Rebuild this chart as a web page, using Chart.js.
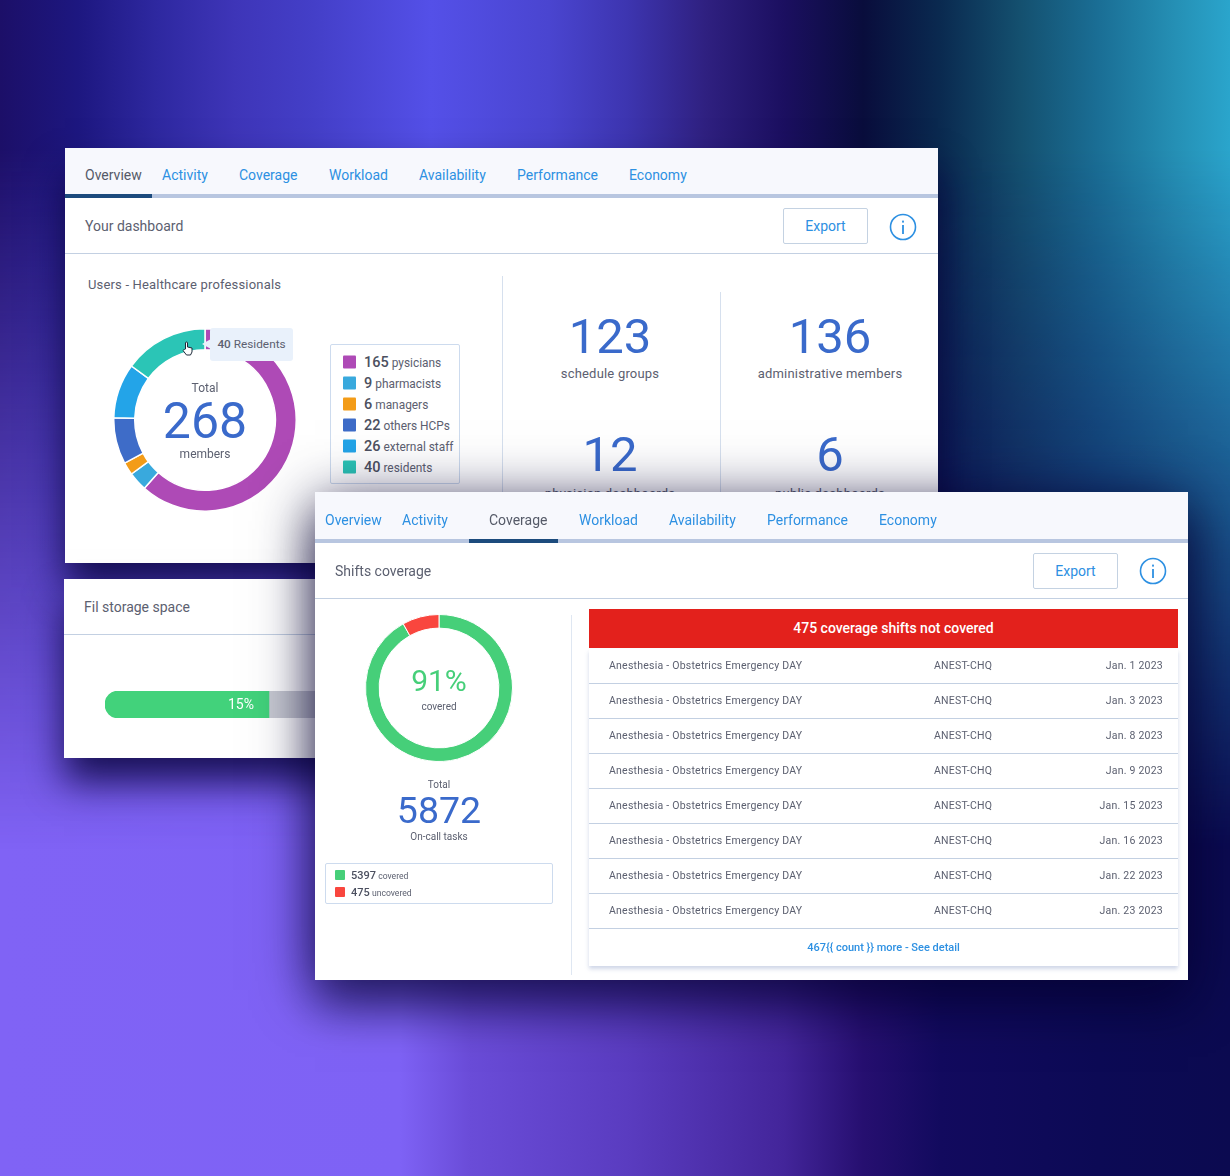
<!DOCTYPE html>
<html>
<head>
<meta charset="utf-8">
<title>Dashboard</title>
<script src="https://cdn.jsdelivr.net/npm/chart.js@4"></script>
<style>
html, body { margin: 0; padding: 0; }
body {
  position: relative; width: 1230px; height: 1176px; overflow: hidden;
  font-family: Roboto, sans-serif; color: #5c6070;
  background: linear-gradient(90deg, #8063f5 0, #7e62f5 400px, #6a4cd8 470px, #5a3cc0 627px, #43259a 784px, #260f70 863px, #120a5e 941px, #0c0a55 1098px, #0b0a50 1230px);
}
#bgTop {
  position: absolute; left: 0; top: 0; width: 1230px; height: 880px;
  background: linear-gradient(90deg, #1c0f68 0, #1d1780 78px, #2e28a0 157px, #3e35b8 235px, #443fc8 314px, #5450e8 431px, #4a45d0 549px, #3d35b0 627px, #2f2080 706px, #1b0f60 784px, #090d3c 863px, #0a2a50 941px, #14506f 1020px, #1a6e95 1098px, #2590b5 1176px, #2aa5cc 1230px);
  -webkit-mask-image: linear-gradient(180deg, #000 0, #000 150px, transparent 850px);
  mask-image: linear-gradient(180deg, #000 0, #000 150px, transparent 850px);
}
.abs { position: absolute; }
.card { position: absolute; background: #fff; overflow: hidden; }
.back { box-shadow: 0 24px 36px rgba(8,4,60,.85); }
.shadowed { box-shadow: 0 10px 55px rgba(6,3,50,.8), 0 30px 40px rgba(6,3,50,.35); }
.tabs { position: absolute; left: 0; top: 0; right: 0; height: 46px; background: #f7f8fd; border-bottom: 4px solid #b8c6e0; }
.tab { position: absolute; top: 27px; transform: translateY(-50%); font-size: 14px; color: #2d90e2; white-space: nowrap; }
.tab.on { color: #555a68; }
.tabline { position: absolute; top: 46px; height: 4px; background: #1c4b7d; }
.head { position: absolute; font-size: 14px; color: #5c6070; white-space: nowrap; transform: translateY(-50%); }
.rule { position: absolute; background: #c3d0e2; }
.btn { position: absolute; box-sizing: border-box; width: 85px; height: 36px; border: 1px solid #c4d2e2; border-radius: 2px; background: #fff; color: #2d90e2; font-size: 14px; line-height: 35px; text-align: center; }
.big { position: absolute; transform: translate(-50%, -50%); color: #3a6acb; white-space: nowrap; line-height: .78; }
.small { position: absolute; transform: translate(-50%, -50%); color: #5c6070; white-space: nowrap; line-height: 1; }
.legend { position: absolute; box-sizing: border-box; border: 1px solid #cddbee; border-radius: 2px; background: #fff; }
.legitem { position: absolute; white-space: nowrap; transform: translateY(-50%); color: #5c6070; }
.legitem b { font-weight: 500; color: #4c5060; }
.swatch { position: absolute; border-radius: 1px; transform: translateY(-50%); }
canvas { position: absolute; display: block; }
.row { position: absolute; left: 0; width: 589px; height: 35px; border-bottom: 1px solid #c3d0e2; box-sizing: border-box; font-size: 10.5px; letter-spacing: .23px; color: #5c6070; line-height: 33px; background: #fff; }
.row span { position: absolute; top: 0; white-space: nowrap; }
</style>
</head>
<body>
<div id="bgTop"></div>

<div class="card back" id="cardUsers" style="left:65px;top:148px;width:873px;height:415px">
  <div class="tabs" id="tabsA"></div>
  <div class="tabline" style="left:0;width:87px"></div>
  <div class="head" style="left:20px;top:78px">Your dashboard</div>
  <div class="btn" style="left:718px;top:60px">Export</div>
  <svg class="abs" style="left:824px;top:65px" width="28" height="28" viewBox="0 0 28 28"><circle cx="14" cy="14" r="12.5" fill="none" stroke="#2d90e2" stroke-width="1.6"/><rect x="13.1" y="12" width="1.8" height="9" fill="#2d90e2"/><rect x="13.1" y="7.6" width="1.8" height="2" fill="#2d90e2"/></svg>
  <div class="rule" style="left:0;right:0;top:105px;height:1px"></div>
  <div class="head" style="left:23px;top:136px;font-size:13px;letter-spacing:.17px">Users - Healthcare professionals</div>
  <div class="rule" style="left:437px;top:128px;width:1px;height:287px;background:#d6e0ee"></div>
  <div class="rule" style="left:655px;top:144px;width:1px;height:271px;background:#d6e0ee"></div>
  <canvas id="usersChart" width="184" height="184" style="left:48px;top:180px"></canvas>
  <div class="small" style="left:140px;top:240px;font-size:12px">Total</div>
  <div class="big" style="left:140px;top:273px;font-size:50px">268</div>
  <div class="small" style="left:140px;top:306px;font-size:12px">members</div>
  <div class="abs" style="left:145px;top:180px;width:83px;height:33px;background:#e9f1fb;border-radius:3px;font-size:11.8px;line-height:33px;text-align:center;color:#5c6070"><b style="font-weight:500">40</b> Residents</div>
  <svg class="abs" style="left:136px;top:186px" width="12" height="20" viewBox="0 0 12 20"><path d="M10 5 L1 10 L10 15 Z" fill="#e9f1fb"/></svg>
  <svg class="abs" style="left:116px;top:193px" width="14" height="15" viewBox="0 0 14 15"><path d="M4.5 8V2a1 1 0 0 1 2 0v4l4.5 1v4l-1.5 3H5.5L2 9.5c.8-1 1.7-1 2.5-1.5z" fill="#fff" stroke="#1e2a3a" stroke-width="1"/></svg>
  <div class="legend" id="usersLegend" style="left:265px;top:196px;width:130px;height:140px"></div>
  <div id="statsBox"></div>
</div>

<div class="card back" id="cardStorage" style="left:64px;top:579px;width:300px;height:179px">
  <div class="head" style="left:20px;top:28px">Fil storage space</div>
  <div class="rule" style="left:0;right:0;top:55px;height:1px"></div>
  <canvas id="storageChart" width="1093" height="27" style="left:41px;top:112px"></canvas>
  <div class="abs" style="left:164px;top:125px;transform:translateY(-50%);color:#fff;font-size:14px">15%</div>
</div>

<div class="card shadowed" id="cardShifts" style="left:315px;top:492px;width:873px;height:488px">
  <div class="tabs" id="tabsB" style="height:47px"></div>
  <div class="tabline" style="left:154px;width:89px;top:47px"></div>
  <div class="head" style="left:20px;top:79px">Shifts coverage</div>
  <div class="btn" style="left:718px;top:61px">Export</div>
  <svg class="abs" style="left:824px;top:65px" width="28" height="28" viewBox="0 0 28 28"><circle cx="14" cy="14" r="12.5" fill="none" stroke="#2d90e2" stroke-width="1.6"/><rect x="13.1" y="12" width="1.8" height="9" fill="#2d90e2"/><rect x="13.1" y="7.6" width="1.8" height="2" fill="#2d90e2"/></svg>
  <div class="rule" style="left:0;right:0;top:106px;height:1px"></div>
  <div class="rule" style="left:256px;top:123px;width:1px;height:360px;background:#dfe7f2"></div>
  <canvas id="shiftsChart" width="148" height="148" style="left:50px;top:122px"></canvas>
  <div class="big" style="left:124px;top:189px;font-size:30px;color:#46cf79">91%</div>
  <div class="small" style="left:124px;top:215px;font-size:10px">covered</div>
  <div class="small" style="left:124px;top:293px;font-size:10px">Total</div>
  <div class="big" style="left:124px;top:319px;font-size:37.5px">5872</div>
  <div class="small" style="left:124px;top:345px;font-size:10px">On-call tasks</div>
  <div class="legend" id="shiftsLegend" style="left:10px;top:371px;width:228px;height:41px"></div>
  <div class="abs" style="left:274px;top:117px;width:569px;padding-left:20px;height:39px;background:#e3211c;color:#fff;font-size:14px;font-weight:500;line-height:39px;text-align:center">475 coverage shifts not covered</div>
  <div class="abs" id="shiftRows" style="left:274px;top:157px;width:589px;height:317px;background:#fff;box-shadow:0 3px 4px rgba(120,140,190,.35)"></div>
</div>

<script>
const tabNames = ['Overview', 'Activity', 'Coverage', 'Workload', 'Availability', 'Performance', 'Economy'];
const tabLeftA = [20, 97, 174, 264, 354, 452, 564];
const tabLeftB = [10, 87, 174, 264, 354, 452, 564];

const userLabels = ['pysicians', 'pharmacists', 'managers', 'others HCPs', 'external staff', 'residents'];
const userCounts = [165, 9, 6, 22, 26, 40];
const userColors = ['#ae4ab6', '#39a9dd', '#f39c18', '#3e6cc8', '#23a4e8', '#2bc5b6'];

const statValues = [123, 136, 12, 6];
const statLabels = ['schedule groups', 'administrative members', 'physician dashboards', 'public dashboards'];

const storageLabels = ['Storage'];
const storageUsed = [15];
const storageFree = [85];

const shiftLabels = ['covered', 'uncovered'];
const shiftCounts = [5397, 475];
const shiftColors = ['#46cf79', '#f9463e'];

const shiftDates = ['Jan. 1 2023', 'Jan. 3 2023', 'Jan. 8 2023', 'Jan. 9 2023', 'Jan. 15 2023', 'Jan. 16 2023', 'Jan. 22 2023', 'Jan. 23 2023'];
const shiftName = 'Anesthesia - Obstetrics Emergency DAY';
const shiftCode = 'ANEST-CHQ';

Chart.defaults.animation = false;
Chart.defaults.font.family = 'Roboto';

// tabs
function fillTabs(el, lefts, active, top) {
    tabNames.forEach(function(name, i) {
        const t = document.createElement('div');
        t.className = 'tab' + (i === active ? ' on' : '');
        t.style.left = lefts[i] + 'px';
        t.style.top = top + 'px';
        t.textContent = name;
        el.appendChild(t);
    });
}
fillTabs(document.getElementById('tabsA'), tabLeftA, 0, 27);
fillTabs(document.getElementById('tabsB'), tabLeftB, 2, 28);

// right side numbers
const statX = [545, 765];
const statY = [189, 307];
const statsBox = document.getElementById('statsBox');
statValues.forEach(function(v, i) {
    const x = statX[i % 2], y = statY[Math.floor(i / 2)];
    statsBox.insertAdjacentHTML('beforeend',
        '<div class="big" style="left:' + x + 'px;top:' + y + 'px;font-size:49px">' + v + '</div>' +
        '<div class="small" style="left:' + x + 'px;top:' + (i < 2 ? y + 36 : y + 38) + 'px;font-size:13px;letter-spacing:.2px">' + statLabels[i] + '</div>');
});

// legends
function fillLegend(el, labels, counts, colors, firstY, stepY, swatch, numSize, textSize, leftPad, textPad) {
    labels.forEach(function(label, i) {
        const y = firstY + stepY * i;
        el.insertAdjacentHTML('beforeend',
            '<div class="swatch" style="left:' + leftPad + 'px;top:' + y + 'px;width:' + swatch + 'px;height:' + swatch + 'px;background:' + colors[i] + '"></div>' +
            '<div class="legitem" style="left:' + textPad + 'px;top:' + y + 'px;font-size:' + textSize + 'px"><b style="font-size:' + numSize + 'px">' + counts[i] + '</b> ' + label + '</div>');
    });
}
fillLegend(document.getElementById('usersLegend'), userLabels, userCounts, userColors, 16.5, 21, 13, 14.5, 11.9, 12, 33);
fillLegend(document.getElementById('shiftsLegend'), shiftLabels, shiftCounts, shiftColors, 10.5, 17, 10, 11, 8.6, 9, 25);

// table
const shiftRows = document.getElementById('shiftRows');
shiftDates.forEach(function(d, i) {
    shiftRows.insertAdjacentHTML('beforeend',
        '<div class="row" style="top:' + (35 * i) + 'px"><span style="left:20px">' + shiftName + '</span><span style="left:345px">' + shiftCode + '</span><span style="right:15px">' + d + '</span></div>');
});
shiftRows.insertAdjacentHTML('beforeend', '<div class="abs" style="left:0;right:0;top:292px;text-align:center;font-size:11px;font-weight:500;color:#2d90e2">467{{ count }} more - See detail</div>');

// graphiques
new Chart(document.getElementById('usersChart'), {
    type: 'doughnut',
    data: {
        labels: userLabels,
        datasets: [{ data: userCounts, backgroundColor: userColors, borderColor: '#fff', borderWidth: 1.5 }]
    },
    options: {
        responsive: false,
        cutout: '77%',
        plugins: { legend: { display: false }, tooltip: { enabled: false } }
    }
});

new Chart(document.getElementById('shiftsChart'), {
    type: 'doughnut',
    data: {
        labels: shiftLabels,
        datasets: [{ data: shiftCounts, backgroundColor: shiftColors, borderColor: '#fff', borderWidth: 1 }]
    },
    options: {
        responsive: false,
        cutout: '81.5%',
        plugins: { legend: { display: false }, tooltip: { enabled: false } }
    }
});

new Chart(document.getElementById('storageChart'), {
    type: 'bar',
    data: {
        labels: storageLabels,
        datasets: [
            { data: storageUsed, backgroundColor: '#42d27b', borderRadius: { topLeft: 14, bottomLeft: 14 }, borderSkipped: false, barPercentage: 1, categoryPercentage: 1 },
            { data: storageFree, backgroundColor: '#c8cad2', barPercentage: 1, categoryPercentage: 1 }
        ]
    },
    options: {
        indexAxis: 'y',
        responsive: false,
        layout: { padding: 0 },
        scales: {
            x: { stacked: true, display: false, min: 0, max: 100 },
            y: { stacked: true, display: false }
        },
        plugins: { legend: { display: false }, tooltip: { enabled: false } }
    }
});
</script>
</body>
</html>
